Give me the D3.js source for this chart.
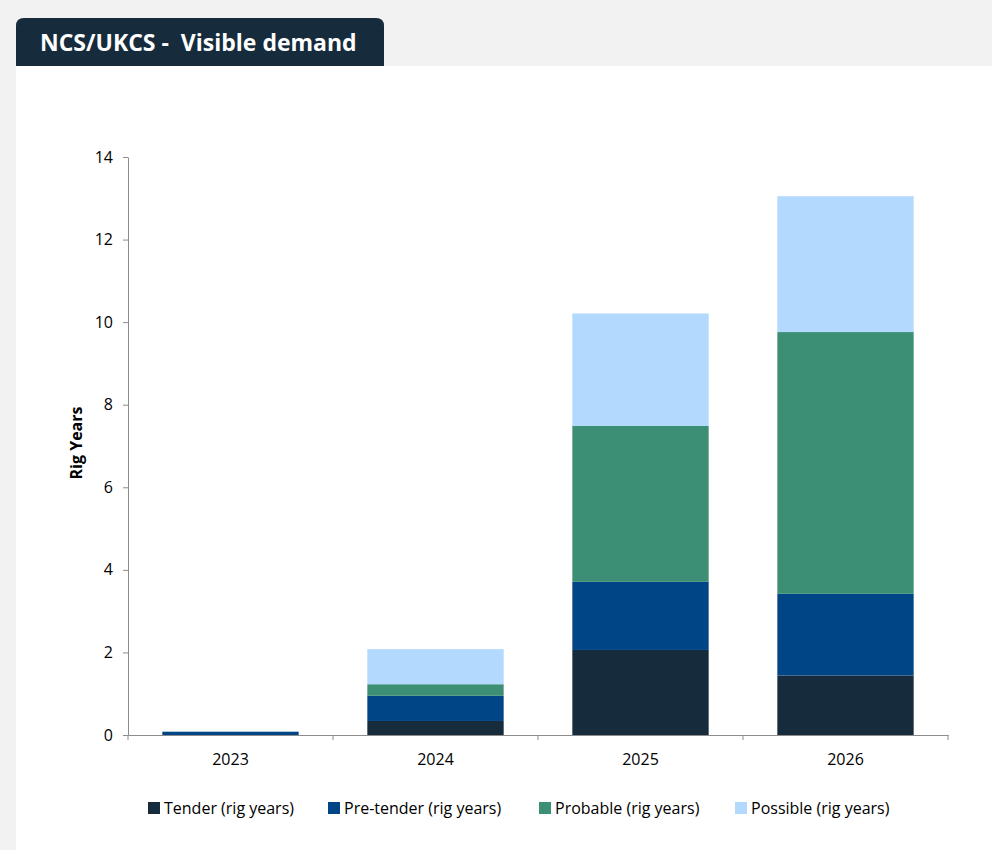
<!DOCTYPE html>
<html><head><meta charset="utf-8">
<script src="https://cdn.jsdelivr.net/npm/d3@7"></script>
<style>
html,body{margin:0;padding:0;background:#f2f2f2;}
svg{display:block;}
</style></head>
<body>
<svg id="chart" width="992" height="850"></svg>
<script>
const years = ["2023","2024","2025","2026"];
const tender    = [0.00, 0.34, 2.06, 1.44];
const preTender = [0.08, 0.61, 1.65, 1.98];
const probable  = [0.00, 0.28, 3.78, 6.34];
const possible  = [0.00, 0.85, 2.72, 3.29];
const seriesNames = ["Tender (rig years)","Pre-tender (rig years)","Probable (rig years)","Possible (rig years)"];
const seriesColors = ["#162b3c","#004586","#3c8f74","#b3d9ff"];
const yTicks = [0,2,4,6,8,10,12,14];
const titleText = "NCS/UKCS -  Visible demand";
const yTitle = "Rig Years";

(function(){
const svg = d3.select("#chart");
svg.append("rect").attr("x",16).attr("y",66).attr("width",976).attr("height",784).attr("fill","#ffffff");
svg.append("path").attr("d","M16,66 L16,26 Q16,18 24,18 L376,18 Q384,18 384,26 L384,66 Z").attr("fill","#162b3c");
svg.append("text").attr("x",40).attr("y",51).attr("fill","#ffffff")
  .attr("font-family","'Open Sans', sans-serif").attr("font-weight","bold").attr("font-size",23)
  .style("white-space","pre").text(titleText);

const pl=128, pr=948, pt=157, pb=735;
const x = d3.scaleBand().domain(years).range([pl,pr]).paddingInner(0.335).paddingOuter(0.1675);
const y = d3.scaleLinear().domain([0,14]).range([pb,pt]);

const rows = years.map((yr,i)=>({year:yr, s0:tender[i], s1:preTender[i], s2:probable[i], s3:possible[i]}));
const stack = d3.stack().keys(["s0","s1","s2","s3"])(rows);

const g = svg.append("g");
stack.forEach((layer,li)=>{
  g.selectAll(null).data(layer).enter().append("rect")
    .attr("x",d=>x(d.data.year))
    .attr("width",x.bandwidth())
    .attr("y",d=>y(d[1]))
    .attr("height",d=>Math.max(0,y(d[0])-y(d[1])))
    .attr("fill",seriesColors[li]);
});

const font = "'Open Sans', sans-serif";
const yAxis = svg.append("g").attr("transform",`translate(${pl},0)`)
  .call(d3.axisLeft(y).tickValues(yTicks).tickSize(5).tickSizeOuter(0).tickPadding(10));
yAxis.select(".domain").attr("stroke","#8c8c8c");
yAxis.selectAll(".tick line").attr("stroke","#8c8c8c");
yAxis.selectAll("text").attr("font-family",font).attr("font-size",16).attr("fill","#000");

const xAxis = svg.append("g").attr("transform",`translate(0,${pb})`)
  .call(d3.axisBottom(x).tickSize(0).tickPadding(19));
xAxis.select(".domain").attr("stroke","#8c8c8c");
xAxis.selectAll("text").attr("font-family",font).attr("font-size",16).attr("fill","#000");
const bounds = years.map(yr=>x(yr)-x.step()*x.paddingInner()/2);
bounds.push(pr);
xAxis.selectAll(".bt").data(bounds).enter().append("line")
  .attr("x1",d=>d).attr("x2",d=>d).attr("y1",0).attr("y2",5).attr("stroke","#8c8c8c");

svg.append("text").attr("transform","translate(82,443) rotate(-90)")
  .attr("text-anchor","middle").attr("font-family",font).attr("font-weight","bold")
  .attr("font-size",16).attr("fill","#000").text(yTitle);

const legendX = [148, 328, 539, 735];
const lg = svg.append("g");
seriesNames.forEach((n,i)=>{
  lg.append("rect").attr("x",legendX[i]).attr("y",802).attr("width",12).attr("height",12).attr("fill",seriesColors[i]);
  lg.append("text").attr("x",legendX[i]+16).attr("y",814).attr("font-family",font).attr("font-size",16).attr("fill","#000").text(n);
});
})();
</script>
</body></html>
